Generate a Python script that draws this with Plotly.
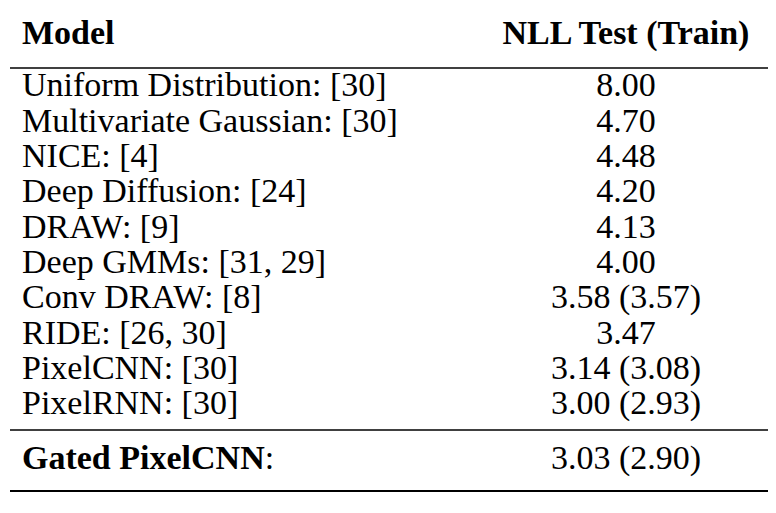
import plotly.graph_objects as go

# Table content
models = ["Uniform Distribution: [30]", "Multivariate Gaussian: [30]", "NICE: [4]",
          "Deep Diffusion: [24]", "DRAW: [9]", "Deep GMMs: [31, 29]",
          "Conv DRAW: [8]", "RIDE: [26, 30]", "PixelCNN: [30]", "PixelRNN: [30]"]
nll = ["8.00", "4.70", "4.48", "4.20", "4.13", "4.00",
       "3.58 (3.57)", "3.47", "3.14 (3.08)", "3.00 (2.93)"]
final_model = "<b>Gated PixelCNN</b>:"
final_nll = "3.03 (2.90)"
headers = ["<b>Model</b>", "<b>NLL Test (Train)</b>"]

rows = list(range(1, len(models) + 1))
header_y = -0.5
final_y = 11.56

font = dict(family="Liberation Serif, Times New Roman, serif", size=34, color="black")

fig = go.Figure()
fig.add_trace(go.Scatter(
    x=[14] * (len(models) + 2), y=[header_y] + rows + [final_y],
    text=[headers[0]] + models + [final_model],
    mode="text", textposition="middle right", textfont=font,
    hoverinfo="skip"))
fig.add_trace(go.Scatter(
    x=[618] * (len(nll) + 2), y=[header_y] + rows + [final_y],
    text=[headers[1]] + nll + [final_nll],
    mode="text", textposition="middle center", textfont=font,
    hoverinfo="skip"))

# table rules
for y, w in [(-1.38, 2.2), (0.433, 1.4), (10.69, 1.4), (12.42, 2.2)]:
    fig.add_shape(type="line", x0=2, x1=774, y0=y, y1=y,
                  line=dict(color="black", width=w))

fig.update_layout(
    width=776, height=513,
    margin=dict(l=0, r=0, t=0, b=0),
    plot_bgcolor="white", paper_bgcolor="white",
    showlegend=False,
    xaxis=dict(range=[0, 776], visible=False),
    yaxis=dict(range=[13.27, -1.266], visible=False),
)

fig.write_html("out.html")
